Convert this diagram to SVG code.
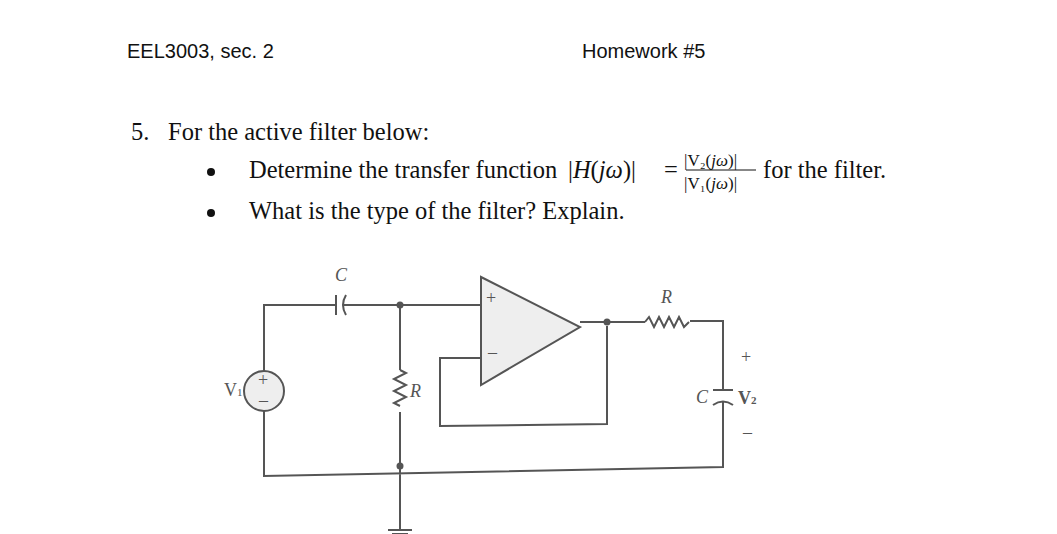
<svg xmlns="http://www.w3.org/2000/svg" width="1057" height="534" viewBox="0 0 1057 534">
<style>
.h{font-family:"Liberation Sans",Arial,sans-serif;font-size:20px;fill:#111}
.t{font-family:"Liberation Serif","Times New Roman",serif;font-size:24.5px;fill:#111}
.f{font-family:"Liberation Serif","Times New Roman",serif;font-size:17px;fill:#111}
.c{font-family:"Liberation Serif","Times New Roman",serif;font-size:18px;fill:#555}
.w{fill:none;stroke:#555;stroke-width:2}
.d{fill:#555}
</style>
<rect width="1057" height="534" fill="#fff"/>
<text class="h" x="127" y="58">EEL3003, sec. 2</text>
<text class="h" x="582" y="58">Homework #5</text>
<text class="t" x="131" y="140">5.<tspan x="168">For the active filter below:</tspan></text>
<circle cx="211" cy="172" r="4" fill="#111"/>
<text class="t" x="249" y="178">Determine the transfer function<tspan x="568">|<tspan font-style="italic">H</tspan>(<tspan font-style="italic">jω</tspan>)|</tspan><tspan x="664">=</tspan></text>
<text class="f" x="684" y="166">|V₂(<tspan font-style="italic">jω</tspan>)|</text>
<line x1="686" y1="170" x2="756" y2="170" stroke="#111" stroke-width="1"/>
<text class="f" x="684" y="189">|V₁(<tspan font-style="italic">jω</tspan>)|</text>
<text class="t" x="763" y="178">for the filter.</text>
<circle cx="211" cy="213" r="4" fill="#111"/>
<text class="t" x="249" y="219">What is the type of the filter? Explain.</text>
<g id="connectors">
<path class="w" d="M264 371 V305 H336 M344 305 H481 M264 411 V476 L723 467 V402 M723 390 V321 H690 M645 322 H580 M400 305 V370 M400 412 V530 M481 358 H440 V426 L607 424 V326"/>
</g>
<g id="source"><circle cx="264" cy="391" r="20" fill="#eee" stroke="#555" stroke-width="2"/><text class="c" x="258" y="386" font-size="14">+</text><text class="c" x="259" y="406" font-size="14">–</text><text class="c" x="224" y="396">V<tspan font-size="11">1</tspan></text></g>
<g id="C1"><line x1="336" y1="295" x2="336" y2="315" stroke="#555" stroke-width="2"/><path class="w" d="M346 295 Q340 305 346 315"/><text class="c" x="335" y="281" font-style="italic">C</text></g>
<g id="R1"><path class="w" d="M400 370 l6 3 l-12 6 l12 6 l-12 6 l12 6 l-12 6 l6 3"/><text class="c" x="410" y="397" font-style="italic">R</text></g>
<g id="opamp"><polygon points="481,277 481,385 580,327" fill="#eee" stroke="#555" stroke-width="2"/><text class="c" x="486" y="304" font-size="14">+</text><text class="c" x="488" y="358" font-size="14">–</text></g>
<g id="R2"><path class="w" d="M645 322 l4 -5 l5 10 l5 -10 l5 10 l5 -10 l5 10 l5 -10 l5 10 l5 -5"/><text class="c" x="661" y="303" font-style="italic">R</text></g>
<g id="C2"><line x1="713" y1="390" x2="733" y2="390" stroke="#555" stroke-width="2"/><path class="w" d="M713 405 Q723 398 733 405"/><text class="c" x="696" y="403" font-style="italic">C</text><text class="c" x="741" y="363">+</text><text class="c" x="738" y="404" font-weight="bold">V<tspan font-size="11">2</tspan></text><text class="c" x="743" y="438">–</text></g>
<g id="ground"><path class="w" d="M388 530 H412 M392 534 H408"/></g>
<g id="dots"><circle class="d" cx="400" cy="305" r="3.5"/><circle class="d" cx="607" cy="322" r="3.5"/><circle class="d" cx="400" cy="466" r="3.5"/></g>
</svg>
